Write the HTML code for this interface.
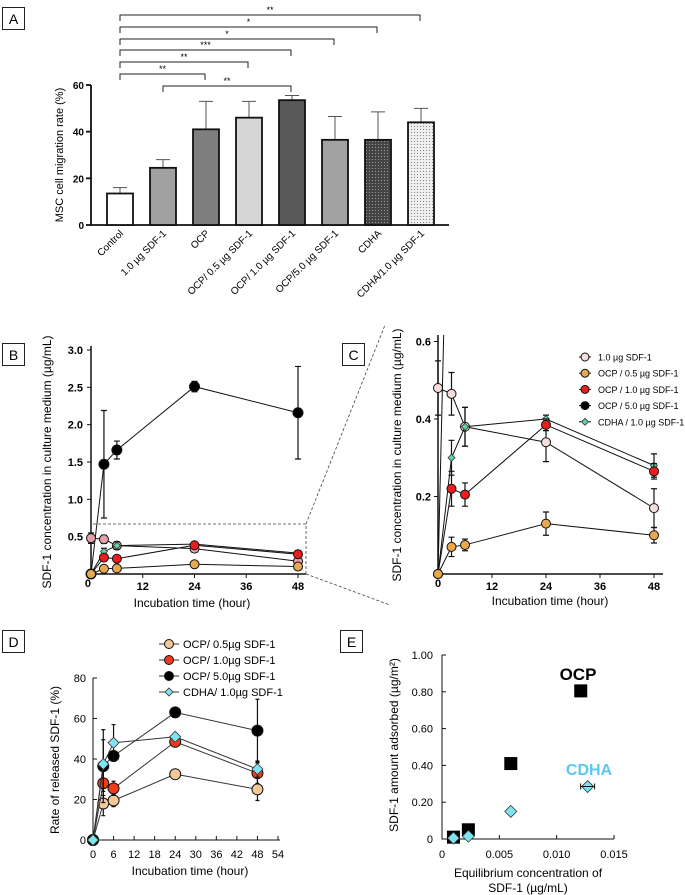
<!DOCTYPE html>
<html><head><meta charset="utf-8">
<style>
html,body{margin:0;padding:0;background:#fff;}
svg{display:block;font-family:"Liberation Sans",sans-serif;}
</style></head>
<body>
<svg id="fig" width="685" height="895" viewBox="0 0 685 895" xmlns="http://www.w3.org/2000/svg">
<defs>
<pattern id="dotDark" width="3" height="3" patternUnits="userSpaceOnUse"><rect width="3" height="3" fill="#444"/><rect width="1" height="1" fill="#999"/></pattern>
<pattern id="dotLight" width="3" height="3" patternUnits="userSpaceOnUse"><rect width="3" height="3" fill="#eee"/><rect width="1" height="1" fill="#888"/></pattern>
<clipPath id="clipC"><rect x="430" y="335" width="240" height="245"/></clipPath>
</defs>
</svg>
<script>
// ---------- Panel A data ----------
const aCats = ["Control","1.0 µg SDF-1","OCP","OCP/ 0.5 µg SDF-1","OCP/ 1.0 µg SDF-1","OCP/5.0 µg SDF-1","CDHA","CDHA/1.0 µg SDF-1"];
const aVals = [13.5,24.5,41,46,53.5,36.5,36.5,44];
const aErr = [2.5,3.5,12,7,2,10,12,6];
const aFills = ["#fff","#a0a0a0","#7f7f7f","#d6d6d6","#595959","#a2a2a2","url(#dotDark)","url(#dotLight)"];
const aTicks = [0,20,40,60];
const aSig = [[0,7,"**"],[0,6,"*"],[0,5,"*"],[0,4,"***"],[0,3,"**"],[0,2,"**"],[1,4,"**"]];
// ---------- Panel B/C data ----------
const bcTimes = [0,3,6,24,48];
const bcPink = [0.48,0.465,0.38,0.34,0.17];
const bcPinkErr = [0.07,0.055,0.05,0.05,0.05];
const bcOrange = [0,0.07,0.075,0.13,0.10];
const bcOrangeErr = [0,0.025,0.015,0.03,0.02];
const bcRed = [0,0.22,0.205,0.385,0.265];
const bcRedErr = [0,0.045,0.03,0.015,0.02];
const bcBlack = [0,1.47,1.66,2.51,2.16];
const bcBlackErr = [0,0.72,0.12,0.07,0.62];
const bcCdha = [0,0.3,0.38,0.40,0.28];
const bcCdhaErr = [0,0.045,0.05,0.01,0.03];
const bTicksY = [0.5,1.0,1.5,2.0,2.5,3.0];
const cTicksY = [0.2,0.4,0.6];
const bcTicksX = [0,12,24,36,48];
// ---------- Panel D data ----------
const dTimes = [0,3,6,24,48];
const dOcp05 = [0,18,19.5,32.5,25];
const dOcp05Err = [0,6,3,2,5.5];
const dOcp10 = [0,28,25.5,48.5,33];
const dOcp10Err = [0,6,3.5,2,5];
const dOcp50 = [0,36.5,41.5,63,54];
const dOcp50Err = [0,18,2.5,1.5,15.5];
const dCdha = [0,37.5,48,51,35];
const dCdhaErr = [0,12,9,1,4];
const dTicksY = [0,20,40,60,80];
const dTicksX = [0,6,12,18,24,30,36,42,48,54];
// ---------- Panel E data ----------
const eOcpX = [0.001,0.0023,0.006,0.0121];
const eOcpY = [0.01,0.05,0.41,0.805];
const eCdhaX = [0.001,0.0023,0.006,0.0127];
const eCdhaY = [0.005,0.015,0.15,0.285];
const eTicksY = [0,0.2,0.4,0.6,0.8,1.0];
const eTickYLabels = ["0","0.20","0.40","0.60","0.80","1.00"];
const eTicksX = [0,0.005,0.010,0.015];
const eTickXLabels = ["0","0.005","0.010","0.015"];

const NS="http://www.w3.org/2000/svg";
const svg=document.getElementById('fig');
function mk(p,tag,at,txt){const e=document.createElementNS(NS,tag);for(const k in at)e.setAttribute(k,at[k]);if(txt!==undefined)e.textContent=txt;p.appendChild(e);return e;}

// scales
const ya=v=>225-v*140/60;
const xa=i=>120+i*43;
const xb=t=>91+t*207/48, yb=v=>574-v*74.67;
const xc=t=>438+t*216/48, yc=v=>574-v*387.5;
const xd=t=>93+t*185/54, yd=v=>840-v*162/80;
const xe=c=>442+c*172/0.015, ye=v=>839-v*184;

// panel label boxes
[["A",2,7],["B",2,343],["C",342,343],["D",2,630],["E",340,630]].forEach(p=>{
  const g=mk(svg,'g',{});
  
  
  mk(g,'rect',{x:p[1]+0.5,y:p[2]+0.5,width:22,height:22,fill:'#fff',stroke:'#222','stroke-width':1});
  mk(g,'text',{x:p[1]+11.5,y:p[2]+17,'font-size':14,'text-anchor':'middle'},p[0]);
});

// ===== Panel A =====
const gA=mk(svg,'g',{});


const axA=mk(gA,'path',{d:`M91 ${ya(60)} V225 H449`,fill:'none',stroke:'#111','stroke-width':1.8});


aTicks.forEach(t=>{
  mk(gA,'line',{x1:86,x2:91,y1:ya(t),y2:ya(t),stroke:'#111','stroke-width':1.8});
  const l=mk(gA,'text',{x:84,y:ya(t)+4,'font-size':10,'font-weight':'bold','text-anchor':'end'},String(t));
  
  
});
const aT=mk(gA,'text',{x:0,y:0,'font-size':11,'text-anchor':'middle',transform:'translate(63,155) rotate(-90)'},'MSC cell migration rate (%)');


aVals.forEach((v,i)=>{
  const cx=xa(i);
  const eb=mk(gA,'path',{d:`M${cx} ${ya(v)} V${ya(v+aErr[i])} M${cx-7} ${ya(v+aErr[i])} H${cx+7}`,stroke:'#555','stroke-width':1,fill:'none'});
  
  
  const b=mk(gA,'rect',{x:cx-13,y:ya(v),width:26,height:225-ya(v),fill:aFills[i],stroke:'#111','stroke-width':1.8});
  
  
  const l=mk(gA,'text',{x:0,y:0,'font-size':10,'text-anchor':'end',transform:`translate(${cx+4},${234}) rotate(-45)`},aCats[i]);
  
  
});
const sigY=[15,27,39,50,62,74,86];
aSig.forEach((s,k)=>{
  const x1=xa(s[0]), x2=xa(s[1])-1, y=sigY[k];
  const br=mk(gA,'path',{d:`M${x1} ${y+6} V${y} H${x2} V${y+6}`,fill:'none',stroke:'#222','stroke-width':1});
  
  
  mk(gA,'text',{x:(x1+x2)/2,y:y-2,'font-size':9,'text-anchor':'middle'},s[2]);
});

// generic series
function series(g,name,xs,ys,errs,xf,yf,color,marker,size,lineColor,capw){
  const sg=mk(g,'g',{});
  
  
  mk(sg,'polyline',{points:xs.map((x,i)=>xf(x)+','+yf(ys[i])).join(' '),fill:'none',stroke:lineColor||'#111','stroke-width':1});
  xs.forEach((x,i)=>{
    if(!errs||!errs[i])return;
    const px=xf(x),t=yf(ys[i]+errs[i]),b=yf(ys[i]-errs[i]);
    mk(sg,'path',{d:`M${px} ${t} V${b} M${px-capw} ${t} H${px+capw} M${px-capw} ${b} H${px+capw}`,stroke:'#111','stroke-width':1.2,fill:'none'});
  });
  xs.forEach((x,i)=>{
    const px=xf(x),py=yf(ys[i]);let m;
    if(marker==='circle')m=mk(sg,'circle',{cx:px,cy:py,r:size,fill:color,stroke:'#111','stroke-width':1});
    else if(marker==='diamond')m=mk(sg,'path',{d:`M${px} ${py-size} L${px+size} ${py} L${px} ${py+size} L${px-size} ${py} Z`,fill:color,stroke:'#333','stroke-width':0.8});
    else m=mk(sg,'rect',{x:px-size,y:py-size,width:size*2,height:size*2,fill:color});
    
    
  });
}

// ===== Panel B =====
const gB=mk(svg,'g',{});


mk(gB,'path',{d:`M91 346 V574 H306`,fill:'none',stroke:'#111','stroke-width':1.5});
mk(gB,'text',{x:91,y:587,'font-size':11,'font-weight':'bold','text-anchor':'end'},'0');
bTicksY.forEach(t=>{
  mk(gB,'line',{x1:87,x2:91,y1:yb(t),y2:yb(t),stroke:'#111'});
  mk(gB,'text',{x:83,y:yb(t)+4,'font-size':11,'font-weight':'bold','text-anchor':'end'},t.toFixed(1));
});
bcTicksX.forEach(t=>{
  mk(gB,'line',{x1:xb(t),x2:xb(t),y1:574,y2:578,stroke:'#111'});
  if(t>0)mk(gB,'text',{x:xb(t),y:590,'font-size':11,'font-weight':'bold','text-anchor':'middle'},String(t));
});
const bx=mk(gB,'text',{x:192,y:607,'font-size':12,'text-anchor':'middle'},'Incubation time (hour)');


const by=mk(gB,'text',{x:0,y:0,'font-size':12,'text-anchor':'middle',transform:'translate(51,462) rotate(-90)'},'SDF-1 concentration in culture medium (µg/mL)');


series(gB,'b-series-ocp-5',bcTimes,bcBlack,bcBlackErr,xb,yb,'#000','circle',5,'#111',3);
series(gB,'b-series-1ug',bcTimes,bcPink,bcPinkErr,xb,yb,'#e8a0a8','circle',4.5,'#111',3);
series(gB,'b-series-cdha',bcTimes,bcCdha,bcCdhaErr,xb,yb,'#5ed6a0','diamond',3.5,'#111',3);
series(gB,'b-series-ocp-1',bcTimes,bcRed,bcRedErr,xb,yb,'#ee1c1c','circle',4.5,'#111',3);
series(gB,'b-series-ocp-05',bcTimes,bcOrange,bcOrangeErr,xb,yb,'#e8a850','circle',4.5,'#111',3);
const zoomBox=mk(gB,'path',{d:`M93 524 H306 V574 M306 524 L385 325 M306 574 L390 605`,fill:'none',stroke:'#444','stroke-width':0.8,'stroke-dasharray':'3,2'});



// ===== Panel C =====
const gC=mk(svg,'g',{});


mk(gC,'path',{d:`M438 335 V574 H663`,fill:'none',stroke:'#111','stroke-width':1.5});
mk(gC,'text',{x:438,y:587,'font-size':11,'font-weight':'bold','text-anchor':'middle'},'0');
cTicksY.forEach(t=>{
  mk(gC,'line',{x1:434,x2:438,y1:yc(t),y2:yc(t),stroke:'#111'});
  mk(gC,'text',{x:431,y:yc(t)+4,'font-size':11,'font-weight':'bold','text-anchor':'end'},t.toFixed(1));
});
bcTicksX.forEach(t=>{
  mk(gC,'line',{x1:xc(t),x2:xc(t),y1:574,y2:578,stroke:'#111'});
  if(t>0)mk(gC,'text',{x:xc(t),y:590,'font-size':11,'font-weight':'bold','text-anchor':'middle'},String(t));
});
const cx_=mk(gC,'text',{x:550,y:605,'font-size':12,'text-anchor':'middle'},'Incubation time (hour)');


const cy_=mk(gC,'text',{x:0,y:0,'font-size':12,'text-anchor':'middle',transform:'translate(401,455) rotate(-90)'},'SDF-1 concentration in culture medium (µg/mL)');


const gCc=mk(gC,'g',{'clip-path':'url(#clipC)'});
series(gCc,'c-series-ocp-5',bcTimes,bcBlack,bcBlackErr,xc,yc,'#000','circle',4.5,'#111',3);
series(gCc,'c-series-1ug',bcTimes,bcPink,bcPinkErr,xc,yc,'#f6dede','circle',4.5,'#111',3);
series(gCc,'c-series-cdha',bcTimes,bcCdha,bcCdhaErr,xc,yc,'#5ed6a0','diamond',3.5,'#111',3);
series(gCc,'c-series-ocp-1',bcTimes,bcRed,bcRedErr,xc,yc,'#ee1c1c','circle',4.5,'#111',3);
series(gCc,'c-series-ocp-05',bcTimes,bcOrange,bcOrangeErr,xc,yc,'#e8a850','circle',4.5,'#111',3);
const cLeg=[["1.0 µg SDF-1","#f6dede","circle"],["OCP / 0.5 µg SDF-1","#e8a850","circle"],["OCP / 1.0 µg SDF-1","#ee1c1c","circle"],["OCP / 5.0 µg SDF-1","#000","circle"],["CDHA / 1.0 µg SDF-1","#5ed6a0","diamond"]];
cLeg.forEach((l,i)=>{
  const y=357+i*16.2;
  const g=mk(gC,'g',{});
  
  
  mk(g,'line',{x1:579,x2:591,y1:y,y2:y,stroke:'#111'});
  if(l[2]==='circle')mk(g,'circle',{cx:585,cy:y,r:4,fill:l[1],stroke:'#111'});
  else mk(g,'path',{d:`M585 ${y-3.5} L588.5 ${y} L585 ${y+3.5} L581.5 ${y} Z`,fill:l[1],stroke:'#333','stroke-width':0.8});
  mk(g,'text',{x:598,y:y+3.5,'font-size':9},l[0]);
});

// ===== Panel D =====
const gD=mk(svg,'g',{});


mk(gD,'path',{d:`M93 ${yd(80)} V840 H280`,fill:'none',stroke:'#111','stroke-width':1});
dTicksY.forEach(t=>{
  mk(gD,'line',{x1:93,x2:97,y1:yd(t),y2:yd(t),stroke:'#111'});
  mk(gD,'text',{x:86,y:yd(t)+4,'font-size':11,'text-anchor':'end'},String(t));
});
dTicksX.forEach(t=>{
  mk(gD,'line',{x1:xd(t),x2:xd(t),y1:836,y2:840,stroke:'#111'});
  mk(gD,'text',{x:xd(t),y:858,'font-size':11,'text-anchor':'middle'},String(t));
});
const dx=mk(gD,'text',{x:190,y:875,'font-size':12,'text-anchor':'middle'},'Incubation time (hour)');


const dy=mk(gD,'text',{x:0,y:0,'font-size':12,'text-anchor':'middle',transform:'translate(59,760) rotate(-90)'},'Rate of released SDF-1 (%)');


series(gD,'d-series-ocp-05',dTimes,dOcp05,dOcp05Err,xd,yd,'#f2c89a','circle',5.5,'#333',2);
series(gD,'d-series-ocp-1',dTimes,dOcp10,dOcp10Err,xd,yd,'#f03a1a','circle',5.5,'#333',2);
series(gD,'d-series-ocp-5',dTimes,dOcp50,dOcp50Err,xd,yd,'#000','circle',5.5,'#333',2);
series(gD,'d-series-cdha',dTimes,dCdha,dCdhaErr,xd,yd,'#7fe3f0','diamond',5.5,'#333',2);
const dLeg=[["OCP/ 0.5µg SDF-1","#f2c89a","circle"],["OCP/ 1.0µg SDF-1","#f03a1a","circle"],["OCP/ 5.0µg SDF-1","#000","circle"],["CDHA/ 1.0µg SDF-1","#7fe3f0","diamond"]];
dLeg.forEach((l,i)=>{
  const y=644+i*16;
  const g=mk(gD,'g',{});
  
  
  mk(g,'line',{x1:159,x2:179,y1:y,y2:y,stroke:'#333'});
  if(l[2]==='circle')mk(g,'circle',{cx:169,cy:y,r:4.5,fill:l[1],stroke:'#111'});
  else mk(g,'path',{d:`M169 ${y-4} L173 ${y} L169 ${y+4} L165 ${y} Z`,fill:l[1],stroke:'#333','stroke-width':0.8});
  mk(g,'text',{x:183,y:y+4,'font-size':11},l[0]);
});

// ===== Panel E =====
const gE=mk(svg,'g',{});


mk(gE,'path',{d:`M442 ${ye(1)} V839 H614`,fill:'none',stroke:'#111','stroke-width':1});
eTicksY.forEach((t,i)=>{
  mk(gE,'line',{x1:442,x2:446,y1:ye(t),y2:ye(t),stroke:'#111'});
  mk(gE,'text',{x:433,y:ye(t)+4,'font-size':11,'text-anchor':'end'},eTickYLabels[i]);
});
eTicksX.forEach((t,i)=>{
  mk(gE,'line',{x1:xe(t),x2:xe(t),y1:835,y2:839,stroke:'#111'});
  mk(gE,'text',{x:xe(t),y:858,'font-size':11,'text-anchor':'middle'},eTickXLabels[i]);
});
const ex=mk(gE,'text',{x:528,y:877,'font-size':12,'text-anchor':'middle'},'Equilibrium concentration of');


mk(gE,'text',{x:528,y:892,'font-size':12,'text-anchor':'middle'},'SDF-1 (µg/mL)');
const ey=mk(gE,'text',{x:0,y:0,'font-size':12,'text-anchor':'middle',transform:'translate(398,745) rotate(-90)'},'SDF-1 amount adsorbed (µg/m²)');


series(gE,'e-series-ocp',eOcpX,eOcpY,null,xe,ye,'#000','square',6.5,'none',0);
series(gE,'e-series-cdha',eCdhaX,eCdhaY,null,xe,ye,'#7fe3f0','diamond',6,'none',0);
mk(gE,'path',{d:`M${xe(0.0127)-7} ${ye(0.285)} H${xe(0.0127)+7} M${xe(0.0127)-7} ${ye(0.285)-3} V${ye(0.285)+3} M${xe(0.0127)+7} ${ye(0.285)-3} V${ye(0.285)+3}`,stroke:'#111','stroke-width':1,fill:'none'});
const eo=mk(gE,'text',{x:578,y:680,'font-size':17,'font-weight':'bold','text-anchor':'middle'},'OCP');


const ec=mk(gE,'text',{x:589,y:775,'font-size':16,'font-weight':'bold','text-anchor':'middle',fill:'#5bc8ef'},'CDHA');


</script>
</body></html>
